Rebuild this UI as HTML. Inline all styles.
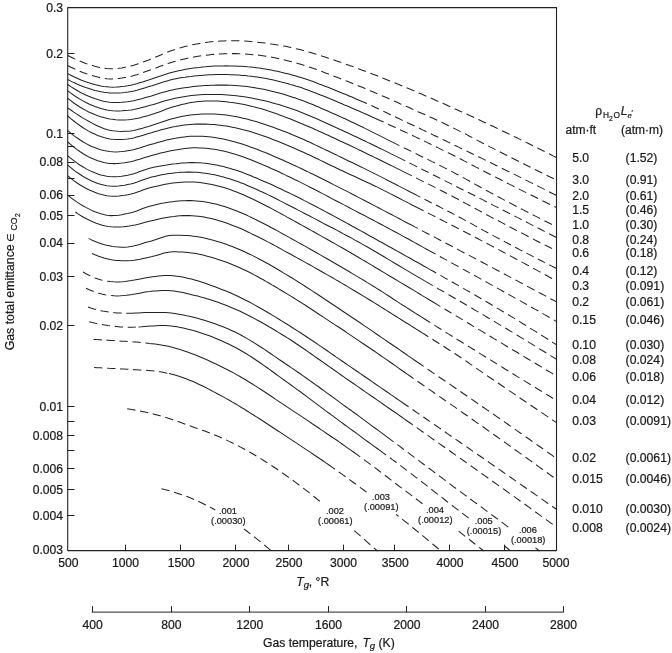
<!DOCTYPE html><html><head><meta charset="utf-8"><title>Gas total emittance chart</title>
<style>html,body{margin:0;padding:0;background:#fff}svg{display:block}text{font-family:"Liberation Sans","DejaVu Sans",sans-serif;fill:#1a1a1a;stroke:#1a1a1a;stroke-width:0.22px}</style></head><body>
<svg width="672" height="653" viewBox="0 0 672 653">
<rect x="0" y="0" width="672" height="653" fill="#fff"/>
<rect x="67.7" y="7.6" width="488.8" height="543.0" fill="none" stroke="#222" stroke-width="1.1" stroke-linejoin="round"/>
<g stroke="#222" stroke-width="1">
<line x1="67.7" y1="53.5" x2="74.5" y2="53.5"/>
<line x1="67.7" y1="133.5" x2="74.5" y2="133.5"/>
<line x1="67.7" y1="146.5" x2="74.5" y2="146.5"/>
<line x1="67.7" y1="162.5" x2="74.5" y2="162.5"/>
<line x1="67.7" y1="178.5" x2="74.5" y2="178.5"/>
<line x1="67.7" y1="195.5" x2="74.5" y2="195.5"/>
<line x1="67.7" y1="215.5" x2="74.5" y2="215.5"/>
<line x1="67.7" y1="243.5" x2="74.5" y2="243.5"/>
<line x1="67.7" y1="276.5" x2="74.5" y2="276.5"/>
<line x1="67.7" y1="325.5" x2="74.5" y2="325.5"/>
<line x1="67.7" y1="406.5" x2="74.5" y2="406.5"/>
<line x1="67.7" y1="421.5" x2="74.5" y2="421.5"/>
<line x1="67.7" y1="435.5" x2="74.5" y2="435.5"/>
<line x1="67.7" y1="450.5" x2="74.5" y2="450.5"/>
<line x1="67.7" y1="468.5" x2="74.5" y2="468.5"/>
<line x1="67.7" y1="489.5" x2="74.5" y2="489.5"/>
<line x1="67.7" y1="515.5" x2="74.5" y2="515.5"/>
<line x1="125.5" y1="550.6" x2="125.5" y2="544.6"/>
<line x1="180.5" y1="550.6" x2="180.5" y2="544.6"/>
<line x1="235.5" y1="550.6" x2="235.5" y2="544.6"/>
<line x1="288.5" y1="550.6" x2="288.5" y2="544.6"/>
<line x1="343.5" y1="550.6" x2="343.5" y2="544.6"/>
<line x1="394.5" y1="550.6" x2="394.5" y2="544.6"/>
<line x1="449.5" y1="550.6" x2="449.5" y2="544.6"/>
<line x1="504.5" y1="550.6" x2="504.5" y2="544.6"/>
<line x1="91.85" y1="612.1" x2="563.75" y2="612.1"/>
<line x1="92.5" y1="612.1" x2="92.5" y2="606.1"/>
<line x1="171.5" y1="612.1" x2="171.5" y2="606.1"/>
<line x1="249.5" y1="612.1" x2="249.5" y2="606.1"/>
<line x1="328.5" y1="612.1" x2="328.5" y2="606.1"/>
<line x1="406.5" y1="612.1" x2="406.5" y2="606.1"/>
<line x1="485.5" y1="612.1" x2="485.5" y2="606.1"/>
<line x1="563.5" y1="612.1" x2="563.5" y2="606.1"/>
</g>
<g font-size="12.15" text-anchor="end">
<text x="63.1" y="11.899999999999999">0.3</text>
<text x="63.1" y="57.6">0.2</text>
<text x="63.1" y="137.8">0.1</text>
<text x="63.1" y="166.4">0.08</text>
<text x="63.1" y="199.4">0.06</text>
<text x="63.1" y="219.5">0.05</text>
<text x="63.1" y="247.3">0.04</text>
<text x="63.1" y="280.7">0.03</text>
<text x="63.1" y="329.6">0.02</text>
<text x="63.1" y="410.5">0.01</text>
<text x="63.1" y="439.6">0.008</text>
<text x="63.1" y="472.6">0.006</text>
<text x="63.1" y="493.8">0.005</text>
<text x="63.1" y="519.5">0.004</text>
<text x="63.1" y="553.6">0.003</text>
</g>
<g font-size="12.15" text-anchor="middle">
<text x="68.5" y="567">500</text>
<text x="125.5" y="567">1000</text>
<text x="181.2" y="567">1500</text>
<text x="235.9" y="567">2000</text>
<text x="289.0" y="567">2500</text>
<text x="343.5" y="567">3000</text>
<text x="395.3" y="567">3500</text>
<text x="449.9" y="567">4000</text>
<text x="504.9" y="567">4500</text>
<text x="556.1" y="567">5000</text>
<text x="92.6" y="629.2">400</text>
<text x="171.3" y="629.2">800</text>
<text x="249.8" y="629.2">1200</text>
<text x="328.55" y="629.2">1600</text>
<text x="407.1" y="629.2">2000</text>
<text x="485.40000000000003" y="629.2">2400</text>
<text x="563.5999999999999" y="629.2">2800</text>
</g>
<text x="296.3" y="585.8" font-size="12.2"><tspan font-style="italic">T</tspan><tspan font-style="italic" font-size="9.6" dy="2.2">g</tspan><tspan dy="-2.2" dx="-0.3">, °R</tspan></text>
<text x="263" y="647" font-size="12.15">Gas temperature, <tspan font-style="italic" dx="1.6">T</tspan><tspan font-style="italic" font-size="9.6" dy="2.2">g</tspan><tspan dy="-2.2"> (K)</tspan></text>
<text transform="translate(13.6,350.3) rotate(-90)" font-size="12.3">Gas total emittance</text>
<text transform="translate(13.7,241.9) rotate(-90)" font-size="9.6">∈</text>
<text transform="translate(17.4,230.4) rotate(-90)" font-size="8.6">CO</text>
<text transform="translate(20.1,217.0) rotate(-90)" font-size="6.6">2</text>
<text x="595.3" y="114.8" font-size="12">ρ</text>
<text x="602.9" y="117.9" font-size="8.3">H</text>
<text x="609" y="121.4" font-size="6.8">2</text>
<text x="613.6" y="118" font-size="8.3">O</text>
<text x="620.8" y="114.8" font-size="12" font-style="italic">L</text>
<text x="627.6" y="117.5" font-size="7.8" font-style="italic">e</text>
<text x="631.6" y="115.2" font-size="7">′</text>
<text x="565.5" y="133.8" font-size="12">atm·ft</text>
<text x="621" y="133.8" font-size="12">(atm·m)</text>
<g font-size="12.2">
<text x="572.2" y="161.6">5.0</text><text x="625.6" y="161.6">(1.52)</text>
<text x="572.2" y="183.8">3.0</text><text x="625.6" y="183.8">(0.91)</text>
<text x="572.2" y="199.9">2.0</text><text x="625.6" y="199.9">(0.61)</text>
<text x="572.2" y="213.8">1.5</text><text x="625.6" y="213.8">(0.46)</text>
<text x="572.2" y="229">1.0</text><text x="625.6" y="229">(0.30)</text>
<text x="572.2" y="243.6">0.8</text><text x="625.6" y="243.6">(0.24)</text>
<text x="572.2" y="257">0.6</text><text x="625.6" y="257">(0.18)</text>
<text x="572.2" y="274.8">0.4</text><text x="625.6" y="274.8">(0.12)</text>
<text x="572.2" y="290.4">0.3</text><text x="625.6" y="290.4">(0.091)</text>
<text x="572.2" y="305.7">0.2</text><text x="625.6" y="305.7">(0.061)</text>
<text x="572.2" y="324.3">0.15</text><text x="625.6" y="324.3">(0.046)</text>
<text x="572.2" y="348.8">0.10</text><text x="625.6" y="348.8">(0.030)</text>
<text x="572.2" y="364.2">0.08</text><text x="625.6" y="364.2">(0.024)</text>
<text x="572.2" y="380.9">0.06</text><text x="625.6" y="380.9">(0.018)</text>
<text x="572.2" y="403.7">0.04</text><text x="625.6" y="403.7">(0.012)</text>
<text x="572.2" y="424.9">0.03</text><text x="625.6" y="424.9">(0.0091)</text>
<text x="572.2" y="461.9">0.02</text><text x="625.6" y="461.9">(0.0061)</text>
<text x="572.2" y="482.5">0.015</text><text x="625.6" y="482.5">(0.0046)</text>
<text x="572.2" y="512.8">0.010</text><text x="625.6" y="512.8">(0.0030)</text>
<text x="572.2" y="532.1">0.008</text><text x="625.6" y="532.1">(0.0024)</text>
</g>
<g font-size="9.25" text-anchor="middle">
<text x="228" y="513.8">.001</text><text x="228.3" y="523.5">(.00030)</text>
<text x="335" y="513.8">.002</text><text x="335.3" y="523.5">(.00061)</text>
<text x="381" y="500.4">.003</text><text x="381.3" y="510.09999999999997">(.00091)</text>
<text x="435" y="512.8">.004</text><text x="435.3" y="522.5">(.00012)</text>
<text x="483.7" y="524.3">.005</text><text x="484.0" y="534.0">(.00015)</text>
<text x="527.9" y="533.2">.006</text><text x="528.1999999999999" y="542.9000000000001">(.00018)</text>
</g>
<g fill="none" stroke="#222" stroke-width="1.05" stroke-linejoin="round">
<path d="M67.8,55.5 70.8,57.0 73.8,58.5 76.8,59.8 79.8,61.1 82.8,62.3 85.8,63.4 88.8,64.4 91.8,65.3 94.8,66.2 97.8,67.0 100.8,67.7 103.8,68.3 106.8,68.6 109.8,68.8 112.8,68.8 115.8,68.6 118.8,68.3 121.8,67.9 124.8,67.3 127.8,66.7 130.8,66.0 133.8,65.2 136.8,64.2 139.8,63.2 142.8,62.1 145.8,61.0 148.8,59.9 151.7,58.7 154.7,57.5 157.7,56.3 160.7,55.0 163.7,53.7 166.7,52.5 169.7,51.3 172.7,50.3 175.7,49.3 178.7,48.3 181.7,47.5 184.7,46.6 187.7,45.9 190.7,45.1 193.7,44.5 196.7,43.9 199.7,43.4 202.7,42.9 205.7,42.4 208.7,42.1 211.7,41.7 214.7,41.4 217.7,41.2 220.7,41.0 223.7,40.9 226.7,40.8 229.7,40.7 232.7,40.7 235.7,40.8 238.7,40.8 241.7,40.9 244.7,41.1 247.7,41.3 250.7,41.5 253.7,41.8 256.7,42.1 259.7,42.4 262.7,42.7 265.7,43.1 268.7,43.5 271.7,44.0 274.7,44.4 277.7,44.9 280.7,45.5 283.7,46.0 286.7,46.6 289.7,47.2 292.7,47.9 295.7,48.6 298.7,49.3 301.7,50.1 304.7,50.9 307.7,51.7 310.7,52.6 313.6,53.5 316.6,54.4 319.6,55.3 322.6,56.3 325.6,57.2 328.6,58.2 331.6,59.2 334.6,60.3 337.6,61.3 340.6,62.3 343.6,63.4 346.6,64.4 349.6,65.5 352.6,66.5 355.6,67.6 358.6,68.7 361.6,69.9 364.6,71.0 367.6,72.1 370.6,73.3 373.6,74.4 376.6,75.6 379.6,76.8 382.6,78.0 385.6,79.2 388.6,80.4 391.6,81.6 394.6,82.8 397.6,84.1 400.6,85.3 403.6,86.5 406.6,87.8 409.6,89.1 412.6,90.3 415.6,91.6 418.6,92.9 421.6,94.1 424.6,95.4 427.6,96.7 430.6,98.0 433.6,99.3 436.6,100.7 439.6,102.0 442.6,103.3 445.6,104.6 448.6,106.0 451.6,107.3 454.6,108.7 457.6,110.0 460.6,111.4 463.6,112.7 466.6,114.1 469.6,115.5 472.6,116.8 475.5,118.2 478.5,119.6 481.5,121.0 484.5,122.4 487.5,123.8 490.5,125.2 493.5,126.6 496.5,128.0 499.5,129.5 502.5,130.9 505.5,132.3 508.5,133.8 511.5,135.2 514.5,136.7 517.5,138.1 520.5,139.6 523.5,141.1 526.5,142.6 529.5,144.0 532.5,145.5 535.5,147.0 538.5,148.5 541.5,150.0 544.5,151.5 547.5,153.0 550.5,154.5 553.5,156.1 556.5,157.6" stroke-dasharray="8.30 4.77"/>
<path d="M67.8,65.7 70.8,67.2 73.8,68.6 76.8,70.0 79.8,71.2 82.8,72.4 85.8,73.5 88.8,74.4 91.8,75.4 94.8,76.3 97.8,77.1 100.8,77.8 103.8,78.3 106.8,78.7 109.8,78.9 112.8,78.9 115.8,78.8 118.8,78.5 121.8,78.1 124.8,77.6 127.8,77.1 130.8,76.4 133.8,75.6 136.8,74.7 139.8,73.7 142.8,72.7 145.8,71.6 148.8,70.5 151.7,69.5 154.7,68.4 157.7,67.3 160.7,66.1 163.7,65.0 166.7,63.9 169.7,62.9 172.7,62.0 175.7,61.1 178.7,60.3 181.7,59.6 184.7,58.9 187.7,58.2 190.7,57.6 193.7,57.0 196.7,56.5 199.7,56.0 202.7,55.6 205.7,55.2 208.7,54.9 211.7,54.6 214.7,54.3 217.7,54.1 220.7,53.9 223.7,53.8 226.7,53.7 229.7,53.6 232.7,53.6 235.7,53.6 238.7,53.7 241.7,53.8 244.7,54.0 247.7,54.2 250.7,54.4 253.7,54.7 256.7,55.0 259.7,55.3 262.7,55.7 265.7,56.2 268.7,56.7 271.7,57.2 274.7,57.8 277.7,58.4 280.7,59.1 283.7,59.8 286.7,60.5 289.7,61.2 292.7,62.0 295.7,62.8 298.7,63.7 301.7,64.6 304.7,65.5 307.7,66.5 310.7,67.5 313.6,68.6 316.6,69.6 319.6,70.7 322.6,71.8 325.6,73.0 328.6,74.1 331.6,75.3 334.6,76.4 337.6,77.6 340.6,78.8 343.6,79.9 346.6,81.1 349.6,82.3 352.6,83.5 355.6,84.7 358.6,85.9 361.6,87.1 364.6,88.3 367.6,89.6 370.6,90.9 373.6,92.1 376.6,93.4 379.6,94.7 382.6,96.0 385.6,97.3 388.6,98.6 391.6,99.9 394.6,101.2 397.6,102.5 400.6,103.9 403.6,105.2 406.6,106.5 409.6,107.8 412.6,109.2 415.6,110.5 418.6,111.9 421.6,113.2 424.6,114.5 427.6,115.9 430.6,117.3 433.6,118.6 436.6,120.0 439.6,121.4 442.6,122.8 445.6,124.2 448.6,125.7 451.6,127.1 454.6,128.6 457.6,130.1 460.6,131.6 463.6,133.1 466.6,134.6 469.6,136.2 472.6,137.8 475.5,139.3 478.5,140.9 481.5,142.5 484.5,144.0 487.5,145.5 490.5,147.1 493.5,148.6 496.5,150.1 499.5,151.7 502.5,153.2 505.5,154.7 508.5,156.2 511.5,157.7 514.5,159.2 517.5,160.8 520.5,162.3 523.5,163.8 526.5,165.3 529.5,166.8 532.5,168.3 535.5,169.7 538.5,171.2 541.5,172.7 544.5,174.2 547.5,175.7 550.5,177.2 553.5,178.6 556.5,180.1" stroke-dasharray="8.30 4.77"/>
<path d="M67.8,73.6 70.8,75.2 73.8,76.7 76.8,78.1 79.8,79.4 82.8,80.7 85.7,81.8 88.7,82.8 91.7,83.7 94.7,84.6 97.7,85.3 100.7,86.0 103.7,86.5 106.7,86.8 109.7,87.1 112.7,87.2 115.7,87.1 118.6,86.9 121.6,86.6 124.6,86.3 127.6,85.8 130.6,85.2 133.6,84.5 136.6,83.7 139.6,82.8 142.6,81.9 145.6,80.9 148.6,80.0 151.5,79.0 154.5,78.0 157.5,77.0 160.5,76.0 163.5,74.9 166.5,74.0 169.5,73.1 172.5,72.3 175.5,71.5 178.5,70.8 181.5,70.2 184.4,69.6 187.4,69.1 190.4,68.6 193.4,68.1 196.4,67.7 199.4,67.4 202.4,67.0 205.4,66.8 208.4,66.5 211.4,66.3 214.4,66.1 217.3,66.0 220.3,65.9 223.3,65.9 226.3,65.8 229.3,65.9 232.3,65.9 235.3,66.0 238.3,66.2 241.3,66.3 244.3,66.5 247.3,66.8 250.3,67.0 253.2,67.3 256.2,67.7 259.2,68.1 262.2,68.5 265.2,69.0 268.2,69.5 271.2,70.1 274.2,70.7 277.2,71.3 280.2,72.0 283.2,72.7 286.1,73.4 289.1,74.1 292.1,74.9 295.1,75.8 298.1,76.7 301.1,77.6 304.1,78.5 307.1,79.5 310.1,80.6 313.1,81.6 316.1,82.7 319.0,83.9 322.0,85.0 325.0,86.2 328.0,87.3 331.0,88.5 334.0,89.7 337.0,91.0 340.0,92.2 343.0,93.4 346.0,94.6 349.0,95.9 351.9,97.1 354.9,98.4 357.9,99.7 360.9,101.0 363.9,102.3 366.9,103.6"/>
<path d="M366.9,103.6 369.9,105.0 372.9,106.3 375.9,107.7 378.9,109.1 381.9,110.5 385.0,112.0 388.0,113.4 391.0,114.8 394.0,116.3 397.0,117.7 400.0,119.1 403.0,120.6 406.0,122.0 409.0,123.4 412.0,124.8 415.1,126.3 418.1,127.7 421.1,129.1 424.1,130.6 427.1,132.0 430.1,133.4 433.1,134.9 436.1,136.3 439.1,137.7 442.1,139.2 445.1,140.6 448.2,142.1 451.2,143.5 454.2,145.0 457.2,146.4 460.2,147.9 463.2,149.3 466.2,150.8 469.2,152.3 472.2,153.7 475.2,155.2 478.3,156.7 481.3,158.1 484.3,159.6 487.3,161.1 490.3,162.6 493.3,164.0 496.3,165.5 499.3,167.0 502.3,168.5 505.3,170.0 508.3,171.4 511.4,172.9 514.4,174.4 517.4,175.9 520.4,177.4 523.4,178.9 526.4,180.4 529.4,181.9 532.4,183.4 535.4,184.9 538.4,186.4 541.5,187.9 544.5,189.4 547.5,191.0 550.5,192.5 553.5,194.0 556.5,195.5" stroke-dasharray="8.36 4.81" stroke-dashoffset="8.36"/>
<path d="M67.8,79.5 70.8,81.1 73.8,82.6 76.8,84.0 79.8,85.3 82.8,86.5 85.8,87.6 88.9,88.6 91.9,89.6 94.9,90.4 97.9,91.1 100.9,91.7 103.9,92.2 106.9,92.6 109.9,92.9 112.9,93.0 115.9,93.0 118.9,93.0 121.9,92.8 124.9,92.5 128.0,92.1 131.0,91.6 134.0,91.0 137.0,90.2 140.0,89.3 143.0,88.4 146.0,87.5 149.0,86.6 152.0,85.7 155.0,84.7 158.0,83.7 161.0,82.7 164.0,81.8 167.1,80.9 170.1,80.0 173.1,79.3 176.1,78.7 179.1,78.1 182.1,77.6 185.1,77.2 188.1,76.7 191.1,76.4 194.1,76.0 197.1,75.7 200.1,75.4 203.1,75.2 206.2,75.0 209.2,74.8 212.2,74.7 215.2,74.6 218.2,74.5 221.2,74.5 224.2,74.5 227.2,74.6 230.2,74.7 233.2,74.8 236.2,74.9 239.2,75.1 242.2,75.4 245.2,75.6 248.3,76.0 251.3,76.3 254.3,76.7 257.3,77.1 260.3,77.6 263.3,78.1 266.3,78.6 269.3,79.2 272.3,79.8 275.3,80.5 278.3,81.2 281.3,82.0 284.3,82.7 287.4,83.5 290.4,84.4 293.4,85.2 296.4,86.2 299.4,87.1 302.4,88.1 305.4,89.2 308.4,90.3 311.4,91.4 314.4,92.5 317.4,93.7 320.4,94.9 323.4,96.1 326.5,97.3 329.5,98.6 332.5,99.8 335.5,101.1 338.5,102.4 341.5,103.6 344.5,104.9 347.5,106.1 350.5,107.4 353.5,108.7 356.5,110.0 359.5,111.3 362.5,112.7 365.6,114.0 368.6,115.3 371.6,116.7 374.6,118.1 377.6,119.4 380.6,120.8 383.6,122.1"/>
<path d="M383.6,122.1 386.6,123.5 389.6,124.9 392.5,126.2 395.5,127.6 398.5,129.0 401.5,130.4 404.5,131.7 407.4,133.1 410.4,134.5 413.4,135.9 416.4,137.4 419.4,138.8 422.4,140.2 425.3,141.6 428.3,143.1 431.3,144.5 434.3,146.0 437.3,147.4 440.2,148.9 443.2,150.4 446.2,151.8 449.2,153.3 452.2,154.8 455.1,156.3 458.1,157.8 461.1,159.3 464.1,160.9 467.1,162.4 470.1,164.0 473.0,165.5 476.0,167.1 479.0,168.6 482.0,170.2 485.0,171.7 487.9,173.2 490.9,174.8 493.9,176.3 496.9,177.8 499.9,179.3 502.8,180.8 505.8,182.4 508.8,183.9 511.8,185.4 514.8,186.9 517.7,188.4 520.7,189.9 523.7,191.4 526.7,192.9 529.7,194.3 532.7,195.8 535.6,197.3 538.6,198.8 541.6,200.3 544.6,201.7 547.6,203.2 550.5,204.7 553.5,206.1 556.5,207.6" stroke-dasharray="8.42 4.84" stroke-dashoffset="8.42"/>
<path d="M67.8,84.5 70.8,86.6 73.8,88.5 76.8,90.3 79.7,92.0 82.7,93.6 85.7,95.0 88.7,96.3 91.7,97.5 94.7,98.6 97.7,99.6 100.7,100.5 103.6,101.2 106.6,101.8 109.6,102.2 112.6,102.4 115.6,102.5 118.6,102.4 121.6,102.3 124.6,102.0 127.5,101.7 130.5,101.3 133.5,100.7 136.5,100.0 139.5,99.2 142.5,98.4 145.5,97.5 148.5,96.7 151.4,95.9 154.4,95.0 157.4,94.1 160.4,93.1 163.4,92.2 166.4,91.4 169.4,90.6 172.4,89.9 175.3,89.3 178.3,88.7 181.3,88.2 184.3,87.8 187.3,87.4 190.3,87.0 193.3,86.6 196.3,86.3 199.2,86.0 202.2,85.8 205.2,85.6 208.2,85.4 211.2,85.3 214.2,85.2 217.2,85.1 220.2,85.1 223.1,85.1 226.1,85.1 229.1,85.2 232.1,85.3 235.1,85.5 238.1,85.7 241.1,86.0 244.1,86.3 247.0,86.6 250.0,87.0 253.0,87.4 256.0,87.9 259.0,88.4 262.0,89.0 265.0,89.6 268.0,90.2 270.9,90.9 273.9,91.7 276.9,92.5 279.9,93.3 282.9,94.1 285.9,95.0 288.9,95.9 291.9,96.9 294.8,97.8 297.8,98.9 300.8,99.9 303.8,101.1 306.8,102.2 309.8,103.4 312.8,104.6 315.8,105.9 318.7,107.1 321.7,108.4 324.7,109.7 327.7,111.0 330.7,112.4 333.7,113.7 336.7,115.1 339.7,116.4 342.6,117.8 345.6,119.1 348.6,120.5 351.6,121.9 354.6,123.3 357.6,124.7 360.6,126.2 363.6,127.6 366.5,129.1 369.5,130.6 372.5,132.1 375.5,133.6 378.5,135.1 381.5,136.6 384.5,138.1 387.5,139.6 390.4,141.1 393.4,142.6 396.4,144.1 399.4,145.6"/>
<path d="M399.4,145.6 402.4,147.1 405.4,148.6 408.5,150.0 411.5,151.5 414.5,153.0 417.5,154.5 420.5,155.9 423.6,157.4 426.6,158.9 429.6,160.4 432.6,161.9 435.7,163.4 438.7,164.9 441.7,166.4 444.7,167.9 447.7,169.5 450.8,171.0 453.8,172.6 456.8,174.2 459.8,175.8 462.8,177.4 465.9,179.1 468.9,180.8 471.9,182.5 474.9,184.1 477.9,185.8 481.0,187.5 484.0,189.1 487.0,190.8 490.0,192.4 493.1,194.0 496.1,195.6 499.1,197.3 502.1,198.9 505.1,200.5 508.2,202.0 511.2,203.6 514.2,205.2 517.2,206.8 520.2,208.4 523.3,209.9 526.3,211.5 529.3,213.0 532.3,214.6 535.4,216.1 538.4,217.6 541.4,219.2 544.4,220.7 547.4,222.2 550.5,223.7 553.5,225.2 556.5,226.7" stroke-dasharray="8.39 4.82" stroke-dashoffset="8.39"/>
<path d="M67.8,90.8 70.8,93.1 73.8,95.2 76.8,97.2 79.9,99.1 82.9,100.9 85.9,102.5 88.9,103.9 91.9,105.3 94.9,106.5 97.9,107.6 100.9,108.5 104.0,109.3 107.0,110.0 110.0,110.4 113.0,110.7 116.0,110.9 119.0,110.9 122.0,110.8 125.1,110.5 128.1,110.3 131.1,109.9 134.1,109.4 137.1,108.7 140.1,108.0 143.1,107.2 146.1,106.4 149.2,105.6 152.2,104.8 155.2,103.9 158.2,103.0 161.2,102.0 164.2,101.0 167.2,100.2 170.3,99.4 173.3,98.7 176.3,98.0 179.3,97.4 182.3,96.9 185.3,96.4 188.3,96.0 191.3,95.6 194.4,95.3 197.4,95.0 200.4,94.8 203.4,94.6 206.4,94.5 209.4,94.4 212.4,94.4 215.5,94.4 218.5,94.5 221.5,94.6 224.5,94.7 227.5,94.9 230.5,95.2 233.5,95.5 236.6,95.8 239.6,96.2 242.6,96.6 245.6,97.0 248.6,97.5 251.6,98.1 254.6,98.7 257.6,99.3 260.7,99.9 263.7,100.6 266.7,101.3 269.7,102.1 272.7,102.9 275.7,103.8 278.7,104.6 281.8,105.6 284.8,106.5 287.8,107.5 290.8,108.5 293.8,109.5 296.8,110.6 299.8,111.8 302.8,112.9 305.9,114.2 308.9,115.4 311.9,116.7 314.9,118.0 317.9,119.3 320.9,120.7 323.9,122.1 327.0,123.4 330.0,124.8 333.0,126.2 336.0,127.6 339.0,128.9 342.0,130.3 345.0,131.7 348.0,133.1 351.1,134.5 354.1,135.9 357.1,137.3 360.1,138.7 363.1,140.2 366.1,141.6 369.1,143.1 372.2,144.5 375.2,146.0 378.2,147.5 381.2,148.9 384.2,150.4 387.2,151.9 390.2,153.4 393.2,154.9 396.3,156.4 399.3,157.9 402.3,159.4 405.3,160.9"/>
<path d="M405.3,160.9 408.3,162.4 411.3,163.9 414.4,165.4 417.4,166.9 420.4,168.4 423.4,170.0 426.5,171.5 429.5,173.0 432.5,174.5 435.5,176.0 438.6,177.5 441.6,179.1 444.6,180.6 447.6,182.1 450.7,183.6 453.7,185.1 456.7,186.7 459.7,188.2 462.8,189.7 465.8,191.3 468.8,192.8 471.8,194.3 474.9,195.8 477.9,197.4 480.9,198.9 483.9,200.4 486.9,202.0 490.0,203.5 493.0,205.1 496.0,206.6 499.0,208.1 502.1,209.7 505.1,211.2 508.1,212.8 511.1,214.3 514.2,215.8 517.2,217.4 520.2,218.9 523.2,220.5 526.3,222.0 529.3,223.6 532.3,225.1 535.3,226.7 538.4,228.3 541.4,229.8 544.4,231.4 547.4,232.9 550.5,234.5 553.5,236.0 556.5,237.6" stroke-dasharray="8.28 4.76" stroke-dashoffset="8.28"/>
<path d="M67.8,98.4 70.8,100.7 73.8,103.0 76.8,105.0 79.8,107.0 82.8,108.8 85.8,110.4 88.7,112.0 91.7,113.3 94.7,114.6 97.7,115.7 100.7,116.7 103.7,117.5 106.7,118.3 109.7,118.9 112.7,119.3 115.7,119.7 118.7,119.9 121.7,119.9 124.7,119.9 127.6,119.8 130.6,119.5 133.6,119.1 136.6,118.5 139.6,117.9 142.6,117.1 145.6,116.3 148.6,115.5 151.6,114.6 154.6,113.6 157.6,112.5 160.6,111.4 163.5,110.2 166.5,109.1 169.5,108.1 172.5,107.1 175.5,106.3 178.5,105.4 181.5,104.6 184.5,103.9 187.5,103.2 190.5,102.6 193.5,102.2 196.5,101.8 199.5,101.5 202.4,101.3 205.4,101.1 208.4,101.0 211.4,101.0 214.4,101.0 217.4,101.1 220.4,101.3 223.4,101.5 226.4,101.8 229.4,102.2 232.4,102.5 235.4,103.0 238.4,103.5 241.3,104.0 244.3,104.6 247.3,105.2 250.3,105.9 253.3,106.7 256.3,107.4 259.3,108.3 262.3,109.1 265.3,110.0 268.3,111.0 271.3,111.9 274.3,113.0 277.3,114.1 280.2,115.2 283.2,116.3 286.2,117.4 289.2,118.6 292.2,119.8 295.2,121.0 298.2,122.2 301.2,123.5 304.2,124.7 307.2,126.0 310.2,127.3 313.2,128.6 316.2,129.9 319.1,131.3 322.1,132.6 325.1,134.0 328.1,135.3 331.1,136.7 334.1,138.1 337.1,139.5 340.1,140.9 343.1,142.3 346.1,143.7 349.1,145.1 352.1,146.5 355.0,147.9 358.0,149.4 361.0,150.8 364.0,152.3 367.0,153.7 370.0,155.2 373.0,156.6 376.0,158.1 379.0,159.5 382.0,161.0 385.0,162.5 388.0,164.0 391.0,165.4 393.9,166.9 396.9,168.4 399.9,169.9 402.9,171.4 405.9,172.9 408.9,174.4 411.9,175.9"/>
<path d="M411.9,175.9 414.9,177.4 417.9,178.9 420.9,180.4 423.9,181.9 427.0,183.4 430.0,184.9 433.0,186.4 436.0,187.9 439.0,189.5 442.0,191.0 445.0,192.5 448.0,194.1 451.1,195.6 454.1,197.2 457.1,198.8 460.1,200.4 463.1,202.0 466.1,203.6 469.1,205.2 472.1,206.8 475.2,208.5 478.2,210.1 481.2,211.7 484.2,213.3 487.2,215.0 490.2,216.6 493.2,218.2 496.2,219.7 499.3,221.3 502.3,222.9 505.3,224.5 508.3,226.1 511.3,227.7 514.3,229.2 517.3,230.8 520.4,232.4 523.4,233.9 526.4,235.5 529.4,237.1 532.4,238.6 535.4,240.2 538.4,241.7 541.4,243.2 544.5,244.8 547.5,246.3 550.5,247.8 553.5,249.4 556.5,250.9" stroke-dasharray="8.36 4.80" stroke-dashoffset="8.36"/>
<path d="M67.8,107.8 70.8,110.0 73.8,112.1 76.8,114.1 79.7,116.0 82.7,117.9 85.7,119.6 88.7,121.3 91.7,122.9 94.7,124.5 97.7,125.9 100.7,127.3 103.6,128.5 106.6,129.4 109.6,130.2 112.6,130.8 115.6,131.1 118.6,131.3 121.6,131.4 124.6,131.3 127.5,131.2 130.5,130.9 133.5,130.4 136.5,129.8 139.5,129.0 142.5,128.2 145.5,127.3 148.5,126.5 151.4,125.6 154.4,124.6 157.4,123.6 160.4,122.6 163.4,121.5 166.4,120.5 169.4,119.6 172.4,118.8 175.3,118.0 178.3,117.3 181.3,116.6 184.3,116.0 187.3,115.5 190.3,115.0 193.3,114.7 196.3,114.4 199.2,114.2 202.2,114.0 205.2,114.0 208.2,113.9 211.2,114.0 214.2,114.1 217.2,114.3 220.2,114.5 223.1,114.8 226.1,115.1 229.1,115.5 232.1,116.0 235.1,116.5 238.1,117.1 241.1,117.7 244.1,118.4 247.0,119.1 250.0,119.9 253.0,120.8 256.0,121.6 259.0,122.5 262.0,123.4 265.0,124.4 267.9,125.4 270.9,126.5 273.9,127.6 276.9,128.7 279.9,129.8 282.9,130.9 285.9,132.1 288.9,133.3 291.8,134.5 294.8,135.7 297.8,137.0 300.8,138.3 303.8,139.6 306.8,141.0 309.8,142.3 312.8,143.7 315.7,145.1 318.7,146.5 321.7,147.9 324.7,149.4 327.7,150.8 330.7,152.2 333.7,153.7 336.7,155.1 339.6,156.6 342.6,158.0 345.6,159.5 348.6,160.9 351.6,162.3 354.6,163.8 357.6,165.2 360.6,166.7 363.5,168.1 366.5,169.6 369.5,171.1 372.5,172.6 375.5,174.1 378.5,175.6 381.5,177.1 384.5,178.6 387.4,180.2 390.4,181.7 393.4,183.3 396.4,184.8 399.4,186.4 402.4,187.9 405.4,189.4 408.4,191.0 411.3,192.5 414.3,194.0 417.3,195.6 420.3,197.1"/>
<path d="M420.3,197.1 423.3,198.6 426.4,200.2 429.4,201.7 432.4,203.3 435.4,204.8 438.5,206.3 441.5,207.9 444.5,209.4 447.5,211.0 450.6,212.5 453.6,214.1 456.6,215.7 459.6,217.3 462.7,218.9 465.7,220.6 468.7,222.2 471.8,223.9 474.8,225.6 477.8,227.2 480.8,228.9 483.9,230.6 486.9,232.2 489.9,233.8 492.9,235.4 496.0,237.1 499.0,238.7 502.0,240.3 505.0,241.9 508.1,243.5 511.1,245.1 514.1,246.7 517.2,248.3 520.2,249.9 523.2,251.4 526.2,253.0 529.3,254.6 532.3,256.1 535.3,257.7 538.3,259.3 541.4,260.8 544.4,262.4 547.4,263.9 550.4,265.4 553.5,267.0 556.5,268.5" stroke-dasharray="8.14 4.68" stroke-dashoffset="8.14"/>
<path d="M67.8,116.0 70.8,118.6 73.8,121.0 76.8,123.3 79.8,125.5 82.7,127.5 85.7,129.4 88.7,131.1 91.7,132.7 94.7,134.1 97.7,135.4 100.7,136.6 103.7,137.5 106.7,138.3 109.7,138.9 112.6,139.3 115.6,139.5 118.6,139.5 121.6,139.4 124.6,139.2 127.6,138.9 130.6,138.5 133.6,137.9 136.6,137.1 139.6,136.3 142.5,135.4 145.5,134.4 148.5,133.5 151.5,132.7 154.5,131.8 157.5,131.0 160.5,130.1 163.5,129.2 166.5,128.4 169.5,127.7 172.4,127.0 175.4,126.5 178.4,125.9 181.4,125.5 184.4,125.1 187.4,124.7 190.4,124.5 193.4,124.3 196.4,124.1 199.4,124.1 202.3,124.1 205.3,124.1 208.3,124.2 211.3,124.4 214.3,124.6 217.3,124.9 220.3,125.3 223.3,125.7 226.3,126.1 229.3,126.6 232.2,127.2 235.2,127.8 238.2,128.5 241.2,129.2 244.2,129.9 247.2,130.7 250.2,131.6 253.2,132.5 256.2,133.4 259.2,134.4 262.1,135.4 265.1,136.5 268.1,137.6 271.1,138.7 274.1,139.9 277.1,141.1 280.1,142.3 283.1,143.5 286.1,144.8 289.1,146.0 292.0,147.3 295.0,148.6 298.0,149.9 301.0,151.2 304.0,152.6 307.0,154.0 310.0,155.3 313.0,156.8 316.0,158.2 319.0,159.6 321.9,161.1 324.9,162.5 327.9,164.0 330.9,165.4 333.9,166.8 336.9,168.3 339.9,169.7 342.9,171.1 345.9,172.5 348.9,173.9 351.8,175.3 354.8,176.6 357.8,178.0 360.8,179.4 363.8,180.8 366.8,182.2 369.8,183.6 372.8,185.0 375.8,186.4 378.8,187.9 381.7,189.4 384.7,190.9 387.7,192.4 390.7,193.9 393.7,195.5 396.7,197.0 399.7,198.5 402.7,200.1 405.7,201.6 408.7,203.1 411.6,204.7 414.6,206.2 417.6,207.7 420.6,209.3 423.6,210.8"/>
<path d="M423.6,210.8 426.6,212.3 429.6,213.9 432.7,215.4 435.7,217.0 438.7,218.5 441.7,220.0 444.7,221.6 447.8,223.1 450.8,224.7 453.8,226.2 456.8,227.8 459.8,229.3 462.9,230.9 465.9,232.5 468.9,234.0 471.9,235.6 474.9,237.2 478.0,238.8 481.0,240.4 484.0,241.9 487.0,243.5 490.1,245.1 493.1,246.7 496.1,248.3 499.1,249.9 502.1,251.5 505.2,253.1 508.2,254.8 511.2,256.4 514.2,258.0 517.2,259.6 520.3,261.2 523.3,262.9 526.3,264.5 529.3,266.1 532.3,267.8 535.4,269.4 538.4,271.1 541.4,272.7 544.4,274.4 547.4,276.0 550.5,277.7 553.5,279.3 556.5,281.0" stroke-dasharray="8.39 4.82" stroke-dashoffset="8.39"/>
<path d="M67.8,130.7 70.8,133.2 73.8,135.6 76.8,137.8 79.8,139.8 82.8,141.7 85.7,143.4 88.7,145.0 91.7,146.4 94.7,147.6 97.7,148.7 100.7,149.7 103.7,150.5 106.7,151.1 109.7,151.6 112.7,151.8 115.7,151.9 118.7,151.8 121.6,151.6 124.6,151.3 127.6,150.8 130.6,150.3 133.6,149.7 136.6,148.8 139.6,147.9 142.6,146.9 145.6,146.0 148.6,145.0 151.6,144.2 154.6,143.4 157.5,142.5 160.5,141.7 163.5,140.9 166.5,140.1 169.5,139.4 172.5,138.8 175.5,138.3 178.5,137.7 181.5,137.3 184.5,136.9 187.5,136.6 190.4,136.3 193.4,136.2 196.4,136.2 199.4,136.2 202.4,136.3 205.4,136.5 208.4,136.8 211.4,137.1 214.4,137.5 217.4,137.9 220.4,138.5 223.4,139.1 226.3,139.7 229.3,140.4 232.3,141.2 235.3,142.0 238.3,142.9 241.3,143.8 244.3,144.8 247.3,145.8 250.3,146.9 253.3,148.0 256.3,149.1 259.3,150.3 262.2,151.4 265.2,152.6 268.2,153.8 271.2,155.1 274.2,156.4 277.2,157.7 280.2,159.0 283.2,160.3 286.2,161.7 289.2,163.0 292.2,164.4 295.2,165.7 298.1,167.1 301.1,168.5 304.1,170.0 307.1,171.4 310.1,172.9 313.1,174.3 316.1,175.8 319.1,177.3 322.1,178.8 325.1,180.3 328.1,181.8 331.0,183.3 334.0,184.9 337.0,186.4 340.0,187.9 343.0,189.4 346.0,190.9 349.0,192.4 352.0,194.0 355.0,195.5 358.0,197.1 361.0,198.6 364.0,200.2 366.9,201.7 369.9,203.3 372.9,204.9 375.9,206.4 378.9,208.0 381.9,209.6 384.9,211.1 387.9,212.7 390.9,214.3 393.9,215.9 396.9,217.4 399.9,219.0 402.8,220.6 405.8,222.2 408.8,223.7 411.8,225.3 414.8,226.9 417.8,228.4"/>
<path d="M417.8,228.4 420.8,230.0 423.8,231.6 426.8,233.2 429.9,234.8 432.9,236.3 435.9,237.9 438.9,239.5 441.9,241.1 444.9,242.7 448.0,244.2 451.0,245.8 454.0,247.4 457.0,249.0 460.0,250.6 463.0,252.2 466.0,253.8 469.1,255.4 472.1,256.9 475.1,258.5 478.1,260.1 481.1,261.7 484.1,263.3 487.1,264.9 490.2,266.5 493.2,268.1 496.2,269.7 499.2,271.3 502.2,272.9 505.2,274.5 508.3,276.1 511.3,277.7 514.3,279.3 517.3,280.9 520.3,282.5 523.3,284.1 526.3,285.8 529.4,287.4 532.4,289.0 535.4,290.6 538.4,292.2 541.4,293.8 544.4,295.4 547.5,297.0 550.5,298.7 553.5,300.3 556.5,301.9" stroke-dasharray="8.38 4.82" stroke-dashoffset="8.38"/>
<path d="M67.8,142.0 70.8,144.6 73.8,147.1 76.8,149.4 79.8,151.5 82.8,153.5 85.7,155.3 88.7,156.9 91.7,158.3 94.7,159.6 97.7,160.7 100.7,161.6 103.7,162.4 106.7,163.0 109.7,163.4 112.7,163.6 115.7,163.6 118.6,163.4 121.6,163.1 124.6,162.7 127.6,162.2 130.6,161.7 133.6,161.0 136.6,160.1 139.6,159.2 142.6,158.2 145.6,157.3 148.6,156.4 151.5,155.5 154.5,154.7 157.5,153.9 160.5,153.1 163.5,152.4 166.5,151.7 169.5,151.0 172.5,150.4 175.5,149.9 178.5,149.4 181.5,148.9 184.5,148.5 187.4,148.2 190.4,148.0 193.4,147.8 196.4,147.8 199.4,147.9 202.4,148.0 205.4,148.2 208.4,148.5 211.4,148.9 214.4,149.3 217.4,149.8 220.3,150.4 223.3,151.1 226.3,151.8 229.3,152.6 232.3,153.4 235.3,154.3 238.3,155.2 241.3,156.2 244.3,157.3 247.3,158.4 250.3,159.6 253.2,160.8 256.2,162.0 259.2,163.2 262.2,164.5 265.2,165.7 268.2,167.0 271.2,168.4 274.2,169.7 277.2,171.1 280.2,172.5 283.2,173.9 286.1,175.4 289.1,176.8 292.1,178.2 295.1,179.7 298.1,181.1 301.1,182.6 304.1,184.1 307.1,185.6 310.1,187.2 313.1,188.7 316.1,190.3 319.0,191.8 322.0,193.4 325.0,194.9 328.0,196.5 331.0,198.1 334.0,199.7 337.0,201.2 340.0,202.8 343.0,204.4 346.0,205.9 349.0,207.5 352.0,209.1 354.9,210.6 357.9,212.2 360.9,213.8 363.9,215.3 366.9,216.9 369.9,218.5 372.9,220.0 375.9,221.6 378.9,223.2 381.9,224.8 384.9,226.4 387.8,228.0 390.8,229.6 393.8,231.2 396.8,232.8 399.8,234.4 402.8,236.1 405.8,237.7 408.8,239.3 411.8,241.0 414.8,242.6 417.8,244.3 420.7,245.9 423.7,247.6 426.7,249.2 429.7,250.9 432.7,252.5 435.7,254.1"/>
<path d="M435.7,254.1 438.7,255.8 441.7,257.5 444.8,259.1 447.8,260.8 450.8,262.4 453.8,264.1 456.8,265.7 459.9,267.4 462.9,269.1 465.9,270.7 468.9,272.4 471.9,274.0 475.0,275.7 478.0,277.4 481.0,279.1 484.0,280.7 487.0,282.4 490.1,284.1 493.1,285.8 496.1,287.4 499.1,289.1 502.1,290.8 505.2,292.5 508.2,294.2 511.2,295.9 514.2,297.6 517.2,299.3 520.3,300.9 523.3,302.6 526.3,304.3 529.3,306.0 532.3,307.7 535.4,309.4 538.4,311.1 541.4,312.8 544.4,314.6 547.4,316.3 550.5,318.0 553.5,319.7 556.5,321.4" stroke-dasharray="8.28 4.76" stroke-dashoffset="8.28"/>
<path d="M67.8,155.8 70.8,158.3 73.8,160.7 76.8,162.9 79.8,165.0 82.8,166.8 85.8,168.6 88.8,170.1 91.8,171.6 94.8,172.8 97.8,173.9 100.7,174.9 103.7,175.6 106.7,176.2 109.7,176.6 112.7,176.7 115.7,176.7 118.7,176.5 121.7,176.2 124.7,175.7 127.7,175.2 130.7,174.6 133.7,173.7 136.7,172.7 139.7,171.6 142.7,170.5 145.7,169.4 148.7,168.5 151.7,167.7 154.7,167.0 157.7,166.4 160.6,165.9 163.6,165.4 166.6,165.0 169.6,164.5 172.6,164.1 175.6,163.8 178.6,163.4 181.6,163.1 184.6,162.9 187.6,162.7 190.6,162.6 193.6,162.6 196.6,162.7 199.6,162.8 202.6,163.1 205.6,163.3 208.6,163.7 211.6,164.2 214.6,164.7 217.6,165.2 220.6,165.9 223.5,166.6 226.5,167.4 229.5,168.3 232.5,169.2 235.5,170.1 238.5,171.1 241.5,172.1 244.5,173.3 247.5,174.4 250.5,175.6 253.5,176.9 256.5,178.1 259.5,179.4 262.5,180.7 265.5,182.0 268.5,183.3 271.5,184.6 274.5,186.0 277.5,187.4 280.5,188.8 283.4,190.3 286.4,191.7 289.4,193.1 292.4,194.6 295.4,196.0 298.4,197.5 301.4,199.0 304.4,200.6 307.4,202.1 310.4,203.7 313.4,205.2 316.4,206.8 319.4,208.4 322.4,210.0 325.4,211.6 328.4,213.2 331.4,214.8 334.4,216.4 337.4,218.0 340.4,219.6 343.4,221.3 346.3,222.9 349.3,224.5 352.3,226.2 355.3,227.8 358.3,229.5 361.3,231.1 364.3,232.8 367.3,234.5 370.3,236.2 373.3,237.8 376.3,239.5 379.3,241.2 382.3,242.8 385.3,244.5 388.3,246.2 391.3,247.8 394.3,249.5 397.3,251.1 400.3,252.8 403.3,254.5 406.2,256.1 409.2,257.8 412.2,259.5 415.2,261.2 418.2,262.8 421.2,264.5 424.2,266.2 427.2,267.9 430.2,269.6 433.2,271.3 436.2,273.0"/>
<path d="M436.2,273.0 439.2,274.7 442.2,276.4 445.2,278.1 448.2,279.8 451.2,281.5 454.2,283.2 457.3,284.9 460.3,286.6 463.3,288.4 466.3,290.1 469.3,291.8 472.3,293.5 475.3,295.2 478.3,297.0 481.3,298.7 484.3,300.5 487.3,302.2 490.3,304.0 493.3,305.8 496.3,307.6 499.4,309.4 502.4,311.2 505.4,313.0 508.4,314.8 511.4,316.6 514.4,318.4 517.4,320.3 520.4,322.1 523.4,324.0 526.4,325.8 529.4,327.7 532.4,329.6 535.4,331.4 538.5,333.3 541.5,335.2 544.5,337.1 547.5,339.0 550.5,340.9 553.5,342.9 556.5,344.8" stroke-dasharray="8.27 4.76" stroke-dashoffset="8.27"/>
<path d="M67.8,165.2 70.8,167.7 73.8,170.1 76.8,172.3 79.8,174.3 82.8,176.2 85.8,178.0 88.7,179.5 91.7,181.0 94.7,182.2 97.7,183.4 100.7,184.3 103.7,185.1 106.7,185.7 109.7,186.1 112.7,186.2 115.7,186.2 118.7,186.0 121.7,185.6 124.6,185.2 127.6,184.6 130.6,184.0 133.6,183.2 136.6,182.2 139.6,181.1 142.6,180.0 145.6,178.9 148.6,177.9 151.6,177.1 154.6,176.4 157.6,175.7 160.5,175.1 163.5,174.5 166.5,174.0 169.5,173.6 172.5,173.2 175.5,172.8 178.5,172.6 181.5,172.3 184.5,172.2 187.5,172.1 190.5,172.1 193.5,172.2 196.4,172.3 199.4,172.6 202.4,172.9 205.4,173.3 208.4,173.7 211.4,174.3 214.4,174.8 217.4,175.5 220.4,176.2 223.4,177.0 226.4,177.9 229.4,178.8 232.3,179.7 235.3,180.7 238.3,181.8 241.3,182.9 244.3,184.1 247.3,185.4 250.3,186.7 253.3,188.0 256.3,189.3 259.3,190.7 262.3,192.0 265.3,193.4 268.3,194.9 271.2,196.3 274.2,197.8 277.2,199.3 280.2,200.9 283.2,202.4 286.2,204.0 289.2,205.5 292.2,207.0 295.2,208.5 298.2,210.1 301.2,211.6 304.2,213.2 307.1,214.7 310.1,216.3 313.1,217.9 316.1,219.4 319.1,221.0 322.1,222.6 325.1,224.2 328.1,225.7 331.1,227.3 334.1,228.8 337.1,230.4 340.1,232.0 343.0,233.6 346.0,235.2 349.0,236.8 352.0,238.4 355.0,240.1 358.0,241.8 361.0,243.4 364.0,245.1 367.0,246.8 370.0,248.5 373.0,250.2 376.0,252.0 378.9,253.7 381.9,255.5 384.9,257.3 387.9,259.1 390.9,260.9 393.9,262.7 396.9,264.5 399.9,266.3 402.9,268.1 405.9,269.9 408.9,271.6 411.9,273.4 414.8,275.1 417.8,276.9 420.8,278.6 423.8,280.4 426.8,282.1 429.8,283.9 432.8,285.6"/>
<path d="M432.8,285.6 435.8,287.3 438.8,289.1 441.9,290.8 444.9,292.5 447.9,294.3 450.9,296.0 453.9,297.7 456.9,299.5 460.0,301.2 463.0,303.0 466.0,304.8 469.0,306.5 472.0,308.3 475.0,310.1 478.1,311.9 481.1,313.6 484.1,315.4 487.1,317.2 490.1,319.0 493.1,320.8 496.2,322.6 499.2,324.4 502.2,326.2 505.2,328.0 508.2,329.8 511.2,331.6 514.3,333.4 517.3,335.3 520.3,337.1 523.3,338.9 526.3,340.8 529.3,342.6 532.4,344.4 535.4,346.3 538.4,348.1 541.4,350.0 544.4,351.8 547.4,353.7 550.5,355.6 553.5,357.4 556.5,359.3" stroke-dasharray="8.38 4.82" stroke-dashoffset="8.38"/>
<path d="M67.8,175.9 70.8,178.3 73.8,180.6 76.8,182.7 79.8,184.7 82.8,186.5 85.8,188.2 88.8,189.7 91.8,191.1 94.8,192.3 97.8,193.4 100.8,194.3 103.8,195.1 106.9,195.7 109.9,196.0 112.9,196.2 115.9,196.2 118.9,196.0 121.9,195.6 124.9,195.2 127.9,194.7 130.9,194.0 133.9,193.2 136.9,192.2 139.9,191.2 142.9,190.1 145.9,189.1 148.9,188.1 151.9,187.3 154.9,186.6 157.9,185.9 160.9,185.2 163.9,184.6 166.9,184.0 169.9,183.6 172.9,183.1 175.9,182.8 178.9,182.5 182.0,182.2 185.0,182.1 188.0,182.0 191.0,182.0 194.0,182.1 197.0,182.3 200.0,182.6 203.0,183.0 206.0,183.4 209.0,183.9 212.0,184.5 215.0,185.2 218.0,185.9 221.0,186.7 224.0,187.6 227.0,188.6 230.0,189.6 233.0,190.7 236.0,191.8 239.0,193.0 242.0,194.2 245.0,195.5 248.0,196.9 251.0,198.3 254.1,199.8 257.1,201.2 260.1,202.7 263.1,204.2 266.1,205.7 269.1,207.3 272.1,208.9 275.1,210.5 278.1,212.1 281.1,213.8 284.1,215.4 287.1,217.1 290.1,218.7 293.1,220.4 296.1,222.0 299.1,223.7 302.1,225.4 305.1,227.0 308.1,228.7 311.1,230.4 314.1,232.0 317.1,233.7 320.1,235.4 323.1,237.1 326.1,238.8 329.2,240.5 332.2,242.2 335.2,243.9 338.2,245.6 341.2,247.3 344.2,249.0 347.2,250.8 350.2,252.5 353.2,254.3 356.2,256.0 359.2,257.8 362.2,259.6 365.2,261.3 368.2,263.1 371.2,264.9 374.2,266.7 377.2,268.5 380.2,270.3 383.2,272.1 386.2,273.9 389.2,275.7 392.2,277.5 395.2,279.3 398.2,281.1 401.2,282.9 404.3,284.7 407.3,286.5 410.3,288.3 413.3,290.1 416.3,291.9 419.3,293.7 422.3,295.6 425.3,297.4 428.3,299.2 431.3,301.0 434.3,302.8 437.3,304.6 440.3,306.4"/>
<path d="M440.3,306.4 443.3,308.2 446.3,310.0 449.2,311.8 452.2,313.5 455.2,315.3 458.2,317.1 461.2,318.9 464.1,320.7 467.1,322.5 470.1,324.3 473.1,326.1 476.1,327.8 479.0,329.6 482.0,331.4 485.0,333.2 488.0,335.0 491.0,336.8 493.9,338.6 496.9,340.3 499.9,342.1 502.9,343.9 505.8,345.7 508.8,347.5 511.8,349.3 514.8,351.0 517.8,352.8 520.7,354.6 523.7,356.4 526.7,358.2 529.7,360.0 532.7,361.7 535.6,363.5 538.6,365.3 541.6,367.1 544.6,368.9 547.6,370.7 550.5,372.4 553.5,374.2 556.5,376.0" stroke-dasharray="8.35 4.80" stroke-dashoffset="8.35"/>
<path d="M67.8,195.2 70.8,197.6 73.8,199.8 76.8,201.9 79.8,203.9 82.8,205.7 85.8,207.4 88.8,208.9 91.8,210.4 94.8,211.7 97.8,212.8 100.8,213.8 103.8,214.6 106.7,215.2 109.7,215.6 112.7,215.6 115.7,215.5 118.7,215.2 121.7,214.7 124.7,214.1 127.7,213.5 130.7,212.8 133.7,211.9 136.7,210.9 139.7,209.8 142.7,208.6 145.7,207.6 148.7,206.6 151.7,205.8 154.7,205.0 157.7,204.3 160.7,203.6 163.7,203.1 166.7,202.5 169.7,202.1 172.7,201.7 175.7,201.3 178.6,201.0 181.6,200.8 184.6,200.7 187.6,200.6 190.6,200.6 193.6,200.7 196.6,200.9 199.6,201.2 202.6,201.6 205.6,202.1 208.6,202.6 211.6,203.2 214.6,203.8 217.6,204.6 220.6,205.4 223.6,206.3 226.6,207.3 229.6,208.3 232.6,209.4 235.6,210.5 238.6,211.7 241.6,213.0 244.6,214.3 247.6,215.6 250.5,217.1 253.5,218.5 256.5,220.0 259.5,221.5 262.5,223.0 265.5,224.5 268.5,226.0 271.5,227.7 274.5,229.3 277.5,230.9 280.5,232.6 283.5,234.3 286.5,235.9 289.5,237.6 292.5,239.2 295.5,240.9 298.5,242.6 301.5,244.2 304.5,245.9 307.5,247.6 310.5,249.3 313.5,251.0 316.5,252.7 319.5,254.4 322.4,256.1 325.4,257.8 328.4,259.5 331.4,261.3 334.4,263.0 337.4,264.7 340.4,266.5 343.4,268.3 346.4,270.0 349.4,271.8 352.4,273.6 355.4,275.4 358.4,277.1 361.4,278.9 364.4,280.7 367.4,282.6 370.4,284.4 373.4,286.2 376.4,288.1 379.4,290.0 382.4,291.9 385.4,293.9 388.4,295.8 391.4,297.8 394.3,299.7 397.3,301.6 400.3,303.6 403.3,305.5 406.3,307.4 409.3,309.3 412.3,311.2 415.3,313.1 418.3,315.0 421.3,316.9 424.3,318.8 427.3,320.7 430.3,322.6"/>
<path d="M430.3,322.6 433.3,324.5 436.3,326.4 439.3,328.3 442.3,330.1 445.3,332.0 448.3,333.9 451.3,335.7 454.3,337.6 457.3,339.5 460.3,341.3 463.4,343.2 466.4,345.1 469.4,346.9 472.4,348.8 475.4,350.6 478.4,352.5 481.4,354.4 484.4,356.2 487.4,358.1 490.4,359.9 493.4,361.8 496.4,363.6 499.4,365.5 502.4,367.3 505.4,369.2 508.4,371.0 511.4,372.9 514.4,374.7 517.4,376.6 520.4,378.4 523.4,380.3 526.5,382.1 529.5,384.0 532.5,385.8 535.5,387.6 538.5,389.5 541.5,391.3 544.5,393.2 547.5,395.0 550.5,396.8 553.5,398.7 556.5,400.5" stroke-dasharray="8.33 4.79" stroke-dashoffset="8.33"/>
<path d="M75.4,212.0 78.4,214.1 81.4,216.0 84.4,217.7 87.4,219.3 90.4,220.8 93.3,222.1 96.3,223.3 99.3,224.3 102.3,225.2 105.3,225.9 108.3,226.4 111.3,226.8 114.3,227.0 117.3,227.0 120.3,227.0 123.3,226.8 126.2,226.4 129.2,226.0 132.2,225.5 135.2,224.9 138.2,224.2 141.2,223.4 144.2,222.6 147.2,221.8 150.2,221.1 153.2,220.4 156.1,219.7 159.1,219.0 162.1,218.3 165.1,217.7 168.1,217.2 171.1,216.7 174.1,216.4 177.1,216.0 180.1,215.8 183.1,215.6 186.1,215.6 189.0,215.6 192.0,215.7 195.0,215.9 198.0,216.2 201.0,216.6 204.0,217.1 207.0,217.7 210.0,218.3 213.0,219.0 216.0,219.8 219.0,220.7 221.9,221.6 224.9,222.6 227.9,223.6 230.9,224.7 233.9,225.9 236.9,227.1 239.9,228.3 242.9,229.6 245.9,231.0 248.9,232.4 251.8,233.9 254.8,235.3 257.8,236.8 260.8,238.3 263.8,239.8 266.8,241.4 269.8,242.9 272.8,244.5 275.8,246.1 278.8,247.8 281.8,249.4 284.7,251.1 287.7,252.7 290.7,254.3 293.7,256.0 296.7,257.6 299.7,259.3 302.7,260.9 305.7,262.6 308.7,264.2 311.7,265.9 314.7,267.6 317.6,269.3 320.6,271.0 323.6,272.7 326.6,274.4 329.6,276.1 332.6,277.8 335.6,279.6 338.6,281.3 341.6,283.1 344.6,284.8 347.6,286.6 350.5,288.4 353.5,290.2 356.5,292.0 359.5,293.8 362.5,295.6 365.5,297.4 368.5,299.2 371.5,301.0 374.5,302.9 377.5,304.7 380.4,306.6 383.4,308.5 386.4,310.4 389.4,312.2 392.4,314.1 395.4,316.0 398.4,317.9 401.4,319.8 404.4,321.7 407.4,323.5 410.4,325.4 413.3,327.3 416.3,329.1 419.3,331.0 422.3,332.9 425.3,334.8 428.3,336.7"/>
<path d="M428.3,336.7 431.3,338.6 434.3,340.5 437.2,342.3 440.2,344.2 443.2,346.1 446.2,348.0 449.2,350.0 452.2,351.9 455.1,353.8 458.1,355.8 461.1,357.8 464.1,359.8 467.1,361.8 470.0,363.9 473.0,365.9 476.0,368.0 479.0,370.1 482.0,372.1 484.9,374.1 487.9,376.2 490.9,378.2 493.9,380.2 496.9,382.3 499.9,384.3 502.8,386.3 505.8,388.3 508.8,390.4 511.8,392.4 514.8,394.4 517.7,396.4 520.7,398.5 523.7,400.5 526.7,402.5 529.7,404.5 532.6,406.5 535.6,408.5 538.6,410.6 541.6,412.6 544.6,414.6 547.6,416.6 550.5,418.6 553.5,420.6 556.5,422.6" stroke-dasharray="8.34 4.79" stroke-dashoffset="8.34"/>
<path d="M88.6,238.4 91.6,239.9 94.6,241.2 97.6,242.4 100.6,243.4 103.6,244.4 106.5,245.2 109.5,245.8 112.5,246.4 115.5,246.8 118.5,247.0 121.5,247.2 124.5,247.2 127.5,247.0 130.5,246.5 133.5,245.9 136.5,245.2 139.4,244.4 142.4,243.5 145.4,242.6 148.4,241.7 151.4,240.9 154.4,240.0 157.4,238.9 160.4,237.9 163.4,236.9 166.4,236.1 169.4,235.5 172.3,235.3 175.3,235.2 178.3,235.2 181.3,235.2 184.3,235.4 187.3,235.6 190.3,235.8 193.3,236.2 196.3,236.6 199.3,237.1 202.3,237.6 205.3,238.3 208.2,239.0 211.2,239.7 214.2,240.5 217.2,241.4 220.2,242.3 223.2,243.2 226.2,244.3 229.2,245.4 232.2,246.5 235.2,247.7 238.2,248.9 241.1,250.2 244.1,251.6 247.1,253.0 250.1,254.4 253.1,255.9 256.1,257.4 259.1,259.0 262.1,260.5 265.1,262.2 268.1,263.8 271.1,265.5 274.0,267.2 277.0,269.0 280.0,270.8 283.0,272.6 286.0,274.4 289.0,276.2 292.0,278.0 295.0,279.9 298.0,281.8 301.0,283.6 304.0,285.5 306.9,287.5 309.9,289.4 312.9,291.4 315.9,293.3 318.9,295.3 321.9,297.3 324.9,299.3 327.9,301.3 330.9,303.3 333.9,305.3 336.9,307.3 339.9,309.3 342.8,311.3 345.8,313.3 348.8,315.3 351.8,317.3 354.8,319.3 357.8,321.3 360.8,323.3 363.8,325.4 366.8,327.4 369.8,329.4 372.8,331.4 375.7,333.5 378.7,335.5 381.7,337.6 384.7,339.6 387.7,341.7 390.7,343.7 393.7,345.8 396.7,347.8 399.7,349.9 402.7,352.0 405.7,354.0 408.6,356.1 411.6,358.1 414.6,360.2 417.6,362.3 420.6,364.3 423.6,366.4"/>
<path d="M423.6,366.4 426.6,368.4 429.6,370.5 432.7,372.6 435.7,374.6 438.7,376.7 441.7,378.7 444.7,380.8 447.8,382.8 450.8,384.9 453.8,387.0 456.8,389.0 459.8,391.1 462.9,393.2 465.9,395.3 468.9,397.3 471.9,399.4 474.9,401.5 478.0,403.6 481.0,405.7 484.0,407.8 487.0,409.9 490.1,411.9 493.1,414.0 496.1,416.1 499.1,418.2 502.1,420.3 505.2,422.4 508.2,424.5 511.2,426.7 514.2,428.8 517.2,430.9 520.3,433.0 523.3,435.1 526.3,437.2 529.3,439.3 532.3,441.5 535.4,443.6 538.4,445.7 541.4,447.8 544.4,450.0 547.4,452.1 550.5,454.2 553.5,456.4 556.5,458.5" stroke-dasharray="8.40 4.83" stroke-dashoffset="8.40"/>
<path d="M92.0,253.5 95.0,254.8 98.0,256.0 101.0,257.1 104.0,258.0 107.0,258.8 110.0,259.5 113.0,260.0 116.0,260.4 119.1,260.6 122.1,260.8 125.1,260.8 128.1,260.7 131.1,260.5 134.1,260.2 137.1,259.7 140.1,259.2 143.1,258.5 146.1,257.9 149.1,257.3 152.1,256.6 155.1,255.8 158.1,254.9 161.1,254.0 164.1,253.1 167.1,252.5 170.1,252.0 173.2,251.8 176.2,251.8 179.2,251.9 182.2,252.0 185.2,252.2 188.2,252.5 191.2,252.9 194.2,253.3 197.2,253.8 200.2,254.4 203.2,255.1 206.2,255.9 209.2,256.7 212.2,257.5 215.2,258.4 218.2,259.4 221.2,260.4 224.2,261.5 227.3,262.6 230.3,263.7 233.3,264.9 236.3,266.2 239.3,267.5 242.3,268.9 245.3,270.3 248.3,271.8 251.3,273.3 254.3,274.9 257.3,276.5 260.3,278.2 263.3,279.8 266.3,281.6 269.3,283.3 272.3,285.1 275.3,286.8 278.3,288.6 281.4,290.5 284.4,292.3 287.4,294.1 290.4,295.9 293.4,297.7 296.4,299.6 299.4,301.5 302.4,303.4 305.4,305.3 308.4,307.3 311.4,309.2 314.4,311.2 317.4,313.2 320.4,315.2 323.4,317.1 326.4,319.1 329.4,321.1 332.4,323.1 335.5,325.1 338.5,327.0 341.5,329.0 344.5,331.0 347.5,333.1 350.5,335.1 353.5,337.1 356.5,339.1 359.5,341.1 362.5,343.2 365.5,345.2 368.5,347.2 371.5,349.3 374.5,351.3 377.5,353.4 380.5,355.5 383.5,357.6 386.5,359.6 389.6,361.7 392.6,363.8 395.6,365.9 398.6,368.1 401.6,370.2 404.6,372.3 407.6,374.4 410.6,376.5 413.6,378.6"/>
<path d="M413.6,378.6 416.6,380.6 419.6,382.7 422.5,384.8 425.5,386.8 428.5,388.9 431.5,390.9 434.4,393.0 437.4,395.1 440.4,397.1 443.4,399.2 446.3,401.2 449.3,403.3 452.3,405.4 455.3,407.4 458.3,409.5 461.2,411.6 464.2,413.7 467.2,415.8 470.2,417.9 473.1,420.0 476.1,422.1 479.1,424.1 482.1,426.2 485.1,428.3 488.0,430.5 491.0,432.6 494.0,434.7 497.0,436.8 499.9,438.9 502.9,441.0 505.9,443.1 508.9,445.2 511.8,447.4 514.8,449.5 517.8,451.6 520.8,453.8 523.8,455.9 526.7,458.0 529.7,460.2 532.7,462.3 535.7,464.4 538.6,466.6 541.6,468.7 544.6,470.9 547.6,473.0 550.5,475.2 553.5,477.3 556.5,479.5" stroke-dasharray="8.37 4.81" stroke-dashoffset="8.37"/>
<path d="M83.0,272.0 86.0,273.8 89.0,275.3 92.1,276.7 95.1,278.0 98.1,279.0 101.2,279.9 104.2,280.6 107.2,281.2" stroke-dasharray="8.3 4.7"/>
<path d="M107.2,281.2 110.2,281.6 113.2,281.8 116.2,281.9 119.3,281.9 122.3,281.7 125.3,281.4 128.3,281.0 131.3,280.6 134.3,280.1 137.3,279.5 140.4,278.9 143.4,278.3 146.4,277.7 149.4,277.2 152.4,276.8 155.4,276.4 158.4,276.0 161.5,275.7 164.5,275.5 167.5,275.5 170.5,275.6 173.5,275.8 176.5,276.2 179.5,276.6 182.6,277.1 185.6,277.7 188.6,278.4 191.6,279.1 194.6,279.9 197.6,280.7 200.6,281.7 203.6,282.7 206.7,283.8 209.7,284.9 212.7,286.0 215.7,287.1 218.7,288.2 221.7,289.4 224.7,290.6 227.8,291.8 230.8,293.1 233.8,294.4 236.8,295.8 239.8,297.2 242.8,298.7 245.8,300.2 248.9,301.8 251.9,303.4 254.9,305.1 257.9,306.8 260.9,308.5 263.9,310.3 266.9,312.0 270.0,313.8 273.0,315.6 276.0,317.4 279.0,319.3 282.0,321.1 285.0,323.0 288.0,324.8 291.1,326.7 294.1,328.7 297.1,330.6 300.1,332.5 303.1,334.5 306.1,336.5 309.1,338.5 312.2,340.5 315.2,342.5 318.2,344.6 321.2,346.6 324.2,348.7 327.2,350.8 330.2,352.9 333.3,355.0 336.3,357.1 339.3,359.1 342.3,361.2 345.3,363.3 348.3,365.4 351.3,367.4 354.3,369.5 357.4,371.5 360.4,373.6 363.4,375.7 366.4,377.8 369.4,379.8 372.4,381.9 375.4,384.0 378.5,386.1 381.5,388.1 384.5,390.2 387.5,392.3 390.5,394.4 393.5,396.4 396.5,398.5 399.6,400.6 402.6,402.7 405.6,404.7 408.6,406.8"/>
<path d="M408.6,406.8 411.6,408.9 414.6,411.0 417.7,413.1 420.7,415.1 423.7,417.2 426.7,419.3 429.7,421.4 432.7,423.5 435.8,425.5 438.8,427.6 441.8,429.7 444.8,431.8 447.8,433.9 450.9,436.0 453.9,438.1 456.9,440.1 459.9,442.2 462.9,444.3 465.9,446.4 469.0,448.5 472.0,450.6 475.0,452.7 478.0,454.8 481.0,456.8 484.1,458.9 487.1,461.0 490.1,463.1 493.1,465.2 496.1,467.3 499.2,469.4 502.2,471.5 505.2,473.6 508.2,475.7 511.2,477.8 514.2,479.9 517.3,482.0 520.3,484.1 523.3,486.2 526.3,488.3 529.3,490.4 532.4,492.5 535.4,494.6 538.4,496.7 541.4,498.8 544.4,500.9 547.4,503.0 550.5,505.1 553.5,507.2 556.5,509.3" stroke-dasharray="8.30 4.77" stroke-dashoffset="8.30"/>
<path d="M86.1,288.3 89.2,289.8 92.4,291.1 95.5,292.3 98.7,293.3 101.8,294.1 104.9,294.8 108.1,295.3 111.2,295.6" stroke-dasharray="8.3 4.7"/>
<path d="M111.2,295.6 114.2,295.8 117.2,295.9 120.2,295.8 123.1,295.6 126.1,295.3 129.1,294.9 132.1,294.6 135.1,294.1 138.1,293.5 141.1,292.9 144.0,292.3 147.0,291.8 150.0,291.5 153.0,291.1 156.0,290.9 159.0,290.7 162.0,290.5 165.0,290.5 167.9,290.6 170.9,290.8 173.9,291.0 176.9,291.5 179.9,292.0 182.9,292.6 185.9,293.3 188.8,294.0 191.8,294.7 194.8,295.4 197.8,296.1 200.8,297.0 203.8,297.8 206.8,298.7 209.7,299.6 212.7,300.6 215.7,301.6 218.7,302.6 221.7,303.7 224.7,304.8 227.7,306.0 230.6,307.2 233.6,308.4 236.6,309.8 239.6,311.1 242.6,312.5 245.6,314.0 248.6,315.5 251.5,317.0 254.5,318.6 257.5,320.2 260.5,321.8 263.5,323.5 266.5,325.2 269.5,327.0 272.5,328.7 275.4,330.5 278.4,332.4 281.4,334.2 284.4,336.0 287.4,337.9 290.4,339.8 293.4,341.8 296.3,343.8 299.3,345.8 302.3,347.8 305.3,349.8 308.3,351.9 311.3,354.0 314.3,356.1 317.2,358.2 320.2,360.3 323.2,362.4 326.2,364.5 329.2,366.6 332.2,368.7 335.2,370.8 338.1,372.9 341.1,375.0 344.1,377.1 347.1,379.2 350.1,381.2 353.1,383.3 356.1,385.4 359.0,387.4 362.0,389.5 365.0,391.6 368.0,393.6 371.0,395.7 374.0,397.8 377.0,399.9 380.0,401.9 382.9,404.0 385.9,406.1 388.9,408.2 391.9,410.3 394.9,412.3 397.9,414.4 400.9,416.5 403.8,418.6 406.8,420.7 409.8,422.8 412.8,424.9"/>
<path d="M412.8,424.9 415.8,427.0 418.8,429.1 421.8,431.2 424.8,433.3 427.8,435.4 430.8,437.6 433.8,439.7 436.8,441.8 439.7,443.9 442.7,446.0 445.7,448.1 448.7,450.2 451.7,452.3 454.7,454.4 457.7,456.5 460.7,458.7 463.7,460.8 466.7,462.9 469.7,465.0 472.7,467.1 475.7,469.2 478.7,471.4 481.7,473.5 484.6,475.6 487.6,477.7 490.6,479.9 493.6,482.0 496.6,484.1 499.6,486.3 502.6,488.4 505.6,490.5 508.6,492.7 511.6,494.8 514.6,496.9 517.6,499.1 520.6,501.2 523.6,503.4 526.6,505.5 529.6,507.7 532.5,509.8 535.5,512.0 538.5,514.1 541.5,516.3 544.5,518.5 547.5,520.6 550.5,522.8 553.5,524.9 556.5,527.1" stroke-dasharray="8.39 4.82" stroke-dashoffset="8.39"/>
<path d="M88.0,307.1 90.9,308.1 93.9,309.0 96.8,309.8 99.8,310.5 102.7,311.1 105.7,311.6 108.6,312.1 111.6,312.4 114.5,312.7 117.5,313.0 120.4,313.1 123.4,313.2 126.3,313.3" stroke-dasharray="8.3 4.7"/>
<path d="M126.3,313.3 129.3,313.3 132.3,313.3 135.3,313.1 138.3,313.0 141.3,312.8 144.3,312.6 147.3,312.5 150.3,312.5 153.3,312.5 156.3,312.5 159.3,312.5 162.3,312.5 165.3,312.6 168.3,312.8 171.4,313.1 174.4,313.5 177.4,313.9 180.4,314.4 183.4,315.0 186.4,315.7 189.4,316.3 192.4,317.0 195.4,317.8 198.4,318.6 201.4,319.4 204.4,320.3 207.4,321.2 210.4,322.2 213.4,323.2 216.4,324.3 219.4,325.4 222.4,326.6 225.4,327.8 228.4,329.1 231.4,330.4 234.4,331.8 237.4,333.3 240.4,334.8 243.4,336.5 246.4,338.1 249.4,339.9 252.4,341.7 255.4,343.6 258.4,345.5 261.5,347.5 264.5,349.4 267.5,351.5 270.5,353.5 273.5,355.6 276.5,357.6 279.5,359.7 282.5,361.7 285.5,363.8 288.5,365.8 291.5,367.9 294.5,369.9 297.5,372.0 300.5,374.0 303.5,376.1 306.5,378.2 309.5,380.4 312.5,382.5 315.5,384.7 318.5,386.8 321.5,389.0 324.5,391.2 327.5,393.4 330.5,395.5 333.5,397.7 336.5,399.9 339.5,402.1 342.5,404.3 345.5,406.5 348.5,408.7 351.6,410.8 354.6,413.0 357.6,415.2 360.6,417.4 363.6,419.6 366.6,421.8 369.6,424.1 372.6,426.3 375.6,428.5 378.6,430.7 381.6,432.9 384.6,435.2 387.6,437.4 390.6,439.6 393.6,441.8"/>
<path d="M393.6,441.8 396.6,444.0 399.5,446.2 402.5,448.5 405.5,450.7 408.5,452.9 411.4,455.1 414.4,457.3 417.4,459.6 420.4,461.8 423.3,464.0 426.3,466.3 429.3,468.5 432.3,470.7 435.2,473.0 438.2,475.2 441.2,477.4 444.2,479.6 447.1,481.8 450.1,484.1 453.1,486.3 456.1,488.5 459.0,490.7 462.0,492.9 465.0,495.1 468.0,497.3 470.9,499.5 473.9,501.7 476.9,503.8 479.9,506.0 482.8,508.2 485.8,510.4 488.8,512.6 491.8,514.8 494.7,517.0 497.7,519.2 500.7,521.4 503.7,523.7 506.6,525.9 509.6,528.1" stroke-dasharray="8.3 4.7" stroke-dashoffset="8.3"/>
<path d="M535.5,547.8 539.6,551.0"/>
<path d="M89.2,321.8 92.3,322.6 95.4,323.3 98.4,323.9 101.5,324.5 104.6,325.0 107.7,325.5 110.8,325.9 113.8,326.3 116.9,326.6 120.0,326.9 123.1,327.1 126.2,327.2 129.3,327.2 132.3,327.2 135.4,327.1 138.5,326.9" stroke-dasharray="8.3 4.7"/>
<path d="M138.5,326.9 141.5,326.8 144.5,326.5 147.4,326.3 150.4,326.1 153.4,325.9 156.4,325.7 159.4,325.6 162.4,325.5 165.3,325.6 168.3,325.8 171.3,326.0 174.3,326.4 177.3,326.8 180.3,327.4 183.2,328.1 186.2,328.8 189.2,329.5 192.2,330.3 195.2,331.1 198.2,332.0 201.1,333.0 204.1,334.0 207.1,335.0 210.1,336.1 213.1,337.2 216.1,338.4 219.0,339.7 222.0,341.0 225.0,342.4 228.0,343.8 231.0,345.2 234.0,346.8 236.9,348.3 239.9,350.0 242.9,351.7 245.9,353.5 248.9,355.4 251.9,357.3 254.8,359.3 257.8,361.3 260.8,363.3 263.8,365.4 266.8,367.5 269.8,369.7 272.7,371.8 275.7,374.0 278.7,376.1 281.7,378.3 284.7,380.5 287.7,382.6 290.6,384.7 293.6,386.9 296.6,389.1 299.6,391.2 302.6,393.5 305.6,395.7 308.5,397.9 311.5,400.1 314.5,402.4 317.5,404.6 320.5,406.9 323.5,409.1 326.4,411.3 329.4,413.5 332.4,415.7 335.4,417.9 338.4,420.1 341.4,422.3 344.3,424.5 347.3,426.7 350.3,428.9 353.3,431.0 356.3,433.2 359.3,435.4 362.2,437.6 365.2,439.8 368.2,442.0 371.2,444.1 374.2,446.3 377.2,448.5 380.1,450.7 383.1,452.9 386.1,455.0"/>
<path d="M386.1,455.0 389.1,457.2 392.0,459.4 395.0,461.5 397.9,463.7 400.9,465.9 403.8,468.1 406.8,470.3 409.7,472.6 412.7,474.8 415.6,477.1 418.6,479.4 421.5,481.6 424.4,483.9 427.4,486.2 430.4,488.5 433.3,490.8 436.2,493.1 439.2,495.4 442.1,497.7 445.1,500.0 448.1,502.3 451.0,504.6 453.9,506.8 456.9,509.1 459.9,511.4 462.8,513.6 465.8,515.9 468.7,518.1" stroke-dasharray="8.3 4.7" stroke-dashoffset="8.3"/>
<path d="M504.6,546.0 507.1,548.0 509.6,550.1"/>
<path d="M93.5,339.5 96.4,339.6 99.3,339.8 102.2,339.9 105.2,340.1 108.1,340.2 111.0,340.4 113.9,340.6 116.8,340.8 119.8,341.0 122.7,341.2 125.6,341.3 128.5,341.5 131.4,341.7 134.3,341.9 137.2,342.1 140.2,342.4 143.1,342.7 146.0,343.0" stroke-dasharray="8.3 4.7"/>
<path d="M146.0,343.0 149.0,343.4 152.0,343.7 155.1,344.1 158.1,344.5 161.1,345.0 164.1,345.5 167.1,346.1 170.1,346.8 173.2,347.5 176.2,348.4 179.2,349.3 182.2,350.2 185.2,351.3 188.2,352.3 191.3,353.4 194.3,354.6 197.3,355.8 200.3,357.0 203.3,358.3 206.3,359.6 209.4,361.0 212.4,362.4 215.4,363.8 218.4,365.2 221.4,366.7 224.4,368.2 227.5,369.7 230.5,371.3 233.5,372.9 236.5,374.6 239.5,376.3 242.5,378.0 245.6,379.8 248.6,381.7 251.6,383.5 254.6,385.4 257.6,387.4 260.6,389.3 263.7,391.3 266.7,393.3 269.7,395.3 272.7,397.3 275.7,399.4 278.7,401.4 281.8,403.4 284.8,405.4 287.8,407.4 290.8,409.4 293.8,411.4 296.8,413.4 299.9,415.4 302.9,417.4 305.9,419.4 308.9,421.4 311.9,423.5 314.9,425.5 318.0,427.5 321.0,429.6 324.0,431.6 327.0,433.7 330.0,435.7 333.0,437.8 336.1,439.8 339.1,441.9 342.1,444.0 345.1,446.1 348.1,448.3 351.1,450.4 354.2,452.5 357.2,454.7 360.2,456.9"/>
<path d="M360.2,456.9 363.3,459.1 366.3,461.4 369.4,463.6 372.4,465.9 375.5,468.2 378.6,470.5 381.6,472.8 384.7,475.2 387.8,477.5 390.8,479.8 393.9,482.2 396.9,484.5 400.0,486.8 403.1,489.1 406.1,491.4 409.2,493.7 412.3,496.0 415.3,498.3 418.4,500.7 421.4,503.0 424.5,505.3" stroke-dasharray="8.3 4.7" stroke-dashoffset="8.3"/>
<path d="M458.7,531.2 461.8,533.6 464.9,536.1 468.1,538.5 471.2,541.0 474.3,543.5 477.4,546.0 480.6,548.5 483.7,551.0" stroke-dasharray="8.3 4.7"/>
<path d="M94.2,367.5 97.2,367.7 100.2,367.8 103.2,368.0 106.2,368.1 109.2,368.3 112.2,368.4 115.2,368.6 118.2,368.8 121.2,368.9 124.2,369.1 127.1,369.3 130.1,369.4 133.1,369.6 136.1,369.7 139.1,369.9 142.1,370.0 145.1,370.2 148.1,370.4 151.1,370.7 154.1,371.1 157.0,371.4 160.0,371.8 163.0,372.3 166.0,372.9 169.0,373.5" stroke-dasharray="8.3 4.7"/>
<path d="M169.0,373.5 172.0,374.3 175.0,375.1 178.1,376.0 181.1,377.0 184.1,378.1 187.1,379.2 190.1,380.4 193.1,381.6 196.2,383.0 199.2,384.4 202.2,385.8 205.2,387.3 208.2,388.9 211.3,390.5 214.3,392.1 217.3,393.7 220.3,395.3 223.3,396.9 226.3,398.6 229.4,400.3 232.4,402.1 235.4,403.8 238.4,405.6 241.4,407.5 244.5,409.3 247.5,411.2 250.5,413.1 253.5,415.0 256.5,416.9 259.5,418.8 262.6,420.8 265.6,422.7 268.6,424.7 271.6,426.7 274.6,428.7 277.7,430.7 280.7,432.6 283.7,434.6 286.7,436.6 289.7,438.6 292.7,440.6 295.8,442.6 298.8,444.6 301.8,446.6 304.8,448.6 307.8,450.6 310.9,452.6 313.9,454.7 316.9,456.7 319.9,458.8 322.9,460.8 325.9,462.9 329.0,465.0 332.0,467.1 335.0,469.2"/>
<path d="M335.0,469.2 337.9,471.3 340.8,473.4 343.7,475.4 346.6,477.5 349.5,479.6 352.4,481.7 355.3,483.8 358.2,485.9 361.1,488.1 364.0,490.2 366.9,492.3" stroke-dasharray="8.3 4.7" stroke-dashoffset="8.3"/>
<path d="M396.1,514.4 399.0,516.7 402.0,519.1 404.9,521.4 407.9,523.7 410.8,526.1 413.8,528.5 416.7,530.9 419.7,533.3 422.6,535.7 425.6,538.1 428.5,540.6 431.5,543.0 434.4,545.5 437.4,548.0 440.3,550.5" stroke-dasharray="8.3 4.7" stroke-dashoffset="5.3"/>
<path d="M127.2,408.8 130.2,409.2 133.2,409.7 136.2,410.3 139.2,410.8 142.2,411.4 145.1,412.1 148.1,412.7 151.1,413.4 154.1,414.2 157.1,415.0 160.1,415.8 163.0,416.6 166.0,417.5 169.0,418.4 172.0,419.4 175.0,420.4 177.9,421.5 180.9,422.6 183.9,423.7 186.9,424.8 189.9,425.8 192.9,426.9 195.8,428.0 198.8,429.0 201.8,430.1 204.8,431.1 207.8,432.2 210.8,433.4 213.7,434.5 216.7,435.8 219.7,437.1 222.7,438.4 225.7,439.7 228.6,441.1 231.6,442.6 234.6,444.0 237.6,445.5 240.6,447.1 243.6,448.7 246.5,450.3 249.5,452.0 252.5,453.7 255.5,455.5 258.5,457.3 261.5,459.1 264.4,461.0 267.4,462.9 270.4,464.8 273.4,466.8 276.4,468.8 279.3,470.8 282.3,472.9 285.3,475.0 288.3,477.1 291.3,479.2 294.3,481.4 297.2,483.6 300.2,485.8 303.2,488.1 306.2,490.4 309.2,492.7 312.2,495.1 315.1,497.5 318.1,499.9 321.1,502.3" stroke-dasharray="8.3 4.7"/>
<path d="M354.3,530.7 357.2,533.2 360.1,535.7 363.0,538.2 365.9,540.8 368.7,543.3 371.6,545.9 374.5,548.4 377.4,551.0" stroke-dasharray="8.3 4.7"/>
<path d="M161.5,488.7 164.5,489.5 167.5,490.2 170.4,491.1 173.4,492.0 176.4,492.9 179.4,493.9 182.4,494.9 185.4,496.0 188.3,497.1 191.3,498.3 194.3,499.6 197.3,500.9 200.3,502.2 203.3,503.7 206.2,505.2 209.2,506.7 212.2,508.3 215.2,510.0" stroke-dasharray="8.3 4.7"/>
<path d="M243.8,528.8 246.7,531.0 249.7,533.3 252.6,535.6 255.6,537.9 258.6,540.3 261.5,542.7 264.5,545.2 267.4,547.7 270.4,550.2" stroke-dasharray="8.3 4.7"/>
</g>
</svg></body></html>
